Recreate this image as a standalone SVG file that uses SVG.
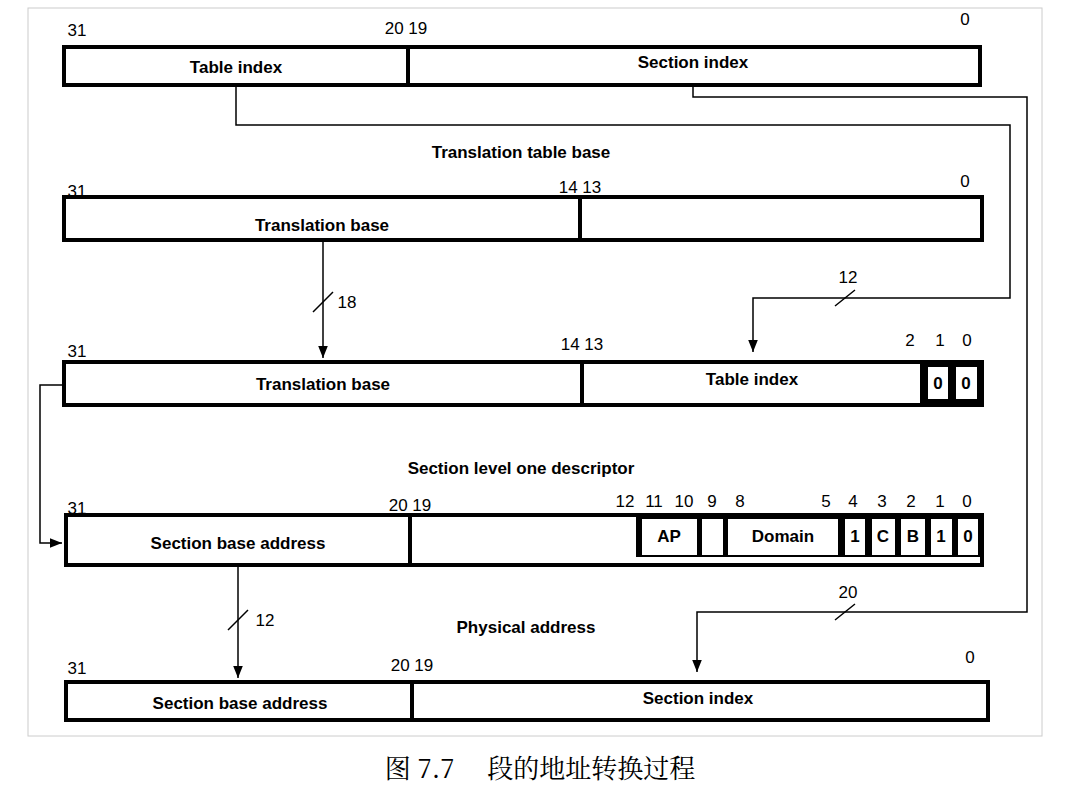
<svg xmlns="http://www.w3.org/2000/svg" width="1073" height="795" viewBox="0 0 1073 795">
<defs>
<style>
.b{fill:#fff;stroke:#000;stroke-width:4}
.d{stroke:#000;stroke-width:4}
.w{fill:#fff}
.t{font-family:"Liberation Sans",Arial,sans-serif;font-size:17px;font-weight:bold;text-anchor:middle}
.n{font-family:"Liberation Sans",Arial,sans-serif;font-size:17px;text-anchor:middle}
.l{fill:none;stroke:#000;stroke-width:1.5}
</style>
<marker id="a" viewBox="0 0 10 10" refX="10" refY="5" markerWidth="8" markerHeight="8" orient="auto"><path d="M0,1 L10,5 L0,9 z"/></marker>
</defs>
<rect width="1073" height="795" fill="#fff"/>
<rect x="28" y="8" width="1014" height="728" fill="none" stroke="#ccc" stroke-width="1"/>
<g id="connectors">
<path class="l" d="M236,85 V125 H1010 V298 H753 V352" marker-end="url(#a)"/>
<path class="l" d="M693,85 V97 H1027 V612 H697 V672" marker-end="url(#a)"/>
<path class="l" d="M323,240 V358" marker-end="url(#a)"/>
<path class="l" d="M64,385 H40 V543 H62" marker-end="url(#a)"/>
<path class="l" d="M238,565 V678" marker-end="url(#a)"/>
<path class="l" d="M313,312 L333,292 M835,306 L855,290 M228,630 L248,610 M835,620 L855,604"/>
<text class="n" x="347" y="308">18</text>
<text class="n" x="848" y="283">12</text>
<text class="n" x="265" y="626">12</text>
<text class="n" x="848" y="598">20</text>
</g>
<g id="row1">
<rect class="b" x="64" y="47" width="916" height="38"/><line class="d" x1="408" y1="47" x2="408" y2="85"/>
<text class="t" x="236" y="73">Table index</text><text class="t" x="693" y="68">Section index</text>
<text class="n" x="77" y="36">31</text><text class="n" x="406" y="34">20 19</text><text class="n" x="965" y="25">0</text>
</g>
<text id="title1" class="t" x="521" y="158">Translation table base</text>
<g id="row2">
<rect class="b" x="64" y="197" width="918" height="43"/><line class="d" x1="580" y1="197" x2="580" y2="240"/>
<text class="t" x="322" y="231">Translation base</text>
<text class="n" x="77" y="197">31</text><text class="n" x="580" y="193">14 13</text><text class="n" x="965" y="187">0</text>
</g>
<g id="row3">
<rect class="b" x="64" y="362" width="918" height="43"/><line class="d" x1="582" y1="362" x2="582" y2="405"/>
<rect x="920" y="362" width="62" height="43"/>
<rect class="w" x="928" y="367" width="20" height="32"/><rect class="w" x="956" y="367" width="21" height="32"/>
<text class="t" x="323" y="390">Translation base</text><text class="t" x="752" y="385">Table index</text>
<text class="t" x="938" y="389">0</text><text class="t" x="966" y="389">0</text>
<text class="n" x="77" y="357">31</text><text class="n" x="582" y="350">14 13</text>
<text class="n" x="910" y="346">2</text><text class="n" x="940" y="346">1</text><text class="n" x="967" y="346">0</text>
</g>
<text id="title2" class="t" x="521" y="474">Section level one descriptor</text>
<g id="row4">
<rect class="b" x="66" y="515" width="916" height="50"/><line class="d" x1="410" y1="515" x2="410" y2="565"/>
<rect x="636" y="515" width="346" height="42"/>
<rect class="w" x="642" y="519" width="55" height="36"/><rect class="w" x="702" y="519" width="21" height="36"/>
<rect class="w" x="728" y="519" width="110" height="36"/><rect class="w" x="845" y="519" width="20" height="36"/>
<rect class="w" x="872" y="519" width="23" height="36"/><rect class="w" x="901" y="519" width="24" height="36"/>
<rect class="w" x="931" y="519" width="21" height="36"/><rect class="w" x="958" y="519" width="20" height="36"/>
<text class="t" x="238" y="549">Section base address</text>
<text class="t" x="669" y="542">AP</text><text class="t" x="783" y="542">Domain</text>
<text class="t" x="855" y="542">1</text><text class="t" x="883" y="542">C</text><text class="t" x="913" y="542">B</text>
<text class="t" x="941" y="542">1</text><text class="t" x="968" y="542">0</text>
<text class="n" x="77" y="514">31</text><text class="n" x="410" y="511">20 19</text>
<text class="n" x="625" y="507">12</text><text class="n" x="654" y="507">11</text><text class="n" x="684" y="507">10</text>
<text class="n" x="712" y="507">9</text><text class="n" x="740" y="507">8</text><text class="n" x="826" y="507">5</text>
<text class="n" x="853" y="507">4</text><text class="n" x="882" y="507">3</text><text class="n" x="911" y="507">2</text>
<text class="n" x="940" y="507">1</text><text class="n" x="967" y="507">0</text>
</g>
<text id="title3" class="t" x="526" y="633">Physical address</text>
<g id="row5">
<rect class="b" x="66" y="682" width="922" height="38"/><line class="d" x1="412" y1="682" x2="412" y2="720"/>
<text class="t" x="240" y="709">Section base address</text><text class="t" x="698" y="704">Section index</text>
<text class="n" x="77" y="674">31</text><text class="n" x="412" y="671">20 19</text><text class="n" x="970" y="663">0</text>
</g>
<text x="540" y="778" font-family="'Noto Serif CJK SC','Noto Sans CJK SC',serif" font-size="26" text-anchor="middle">图 7.7　 段的地址转换过程</text>
</svg>
